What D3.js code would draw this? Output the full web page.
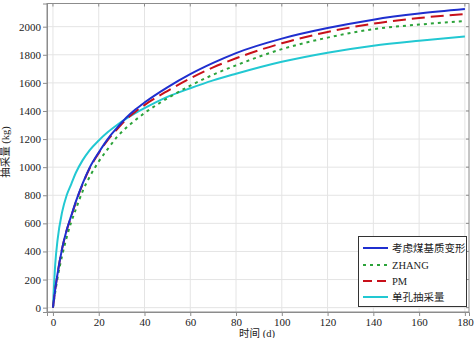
<!DOCTYPE html>
<html><head><meta charset="utf-8">
<script src="https://cdn.jsdelivr.net/npm/d3@7"></script>
<style>
body{margin:0;background:#fff}
svg{display:block}
svg text{font-family:"Liberation Serif","Times New Roman","Noto Sans CJK SC",serif !important;fill:#222}
</style>
</head><body>
<script>
const days    = [0, 1, 2, 4, 6, 8, 10, 13, 16, 20, 24, 28, 32, 36, 40, 50, 60, 70, 80, 100, 120, 140, 160, 180];
const blue    = [0, 130, 240, 420, 552, 655, 755, 885, 995, 1105, 1202, 1280, 1352, 1410, 1460, 1568, 1662, 1742, 1812, 1915, 1990, 2050, 2093, 2125];
const red     = [0, 130, 240, 420, 550, 650, 750, 880, 990, 1100, 1195, 1270, 1340, 1395, 1442, 1542, 1632, 1710, 1775, 1882, 1962, 2022, 2062, 2090];
const green   = [0, 110, 210, 370, 500, 610, 700, 830, 930, 1040, 1130, 1215, 1280, 1335, 1385, 1490, 1580, 1658, 1725, 1840, 1922, 1982, 2015, 2040];
const cyan    = [0, 310, 480, 680, 800, 880, 960, 1050, 1120, 1190, 1250, 1300, 1345, 1385, 1420, 1500, 1562, 1618, 1665, 1750, 1815, 1865, 1900, 1930];
const seriesNames = ["考虑煤基质变形", "ZHANG", "PM", "单孔抽采量"];
const xTicks = [0, 20, 40, 60, 80, 100, 120, 140, 160, 180];
const yTicks = [0, 200, 400, 600, 800, 1000, 1200, 1400, 1600, 1800, 2000];
const xLabel = "时间 (d)";
const yLabel = "抽采量 (kg)";

const W = 474, H = 338;
const L = 47, R = 469, T = 3.5, B = 312;
const x = d3.scaleLinear().domain([-2.6, 181.8]).range([L, R]);
const y = d3.scaleLinear().domain([-31, 2165]).range([B, T]);

const svg = d3.select("body").append("svg").attr("width", W).attr("height", H);

// grid
svg.append("g").selectAll("line").data(xTicks).join("line")
  .attr("x1", d => x(d)).attr("x2", d => x(d)).attr("y1", T).attr("y2", B)
  .attr("stroke", "#e4e4e4").attr("stroke-width", 1);
svg.append("g").selectAll("line").data(yTicks).join("line")
  .attr("y1", d => y(d)).attr("y2", d => y(d)).attr("x1", L).attr("x2", R)
  .attr("stroke", "#e4e4e4").attr("stroke-width", 1);

// frame
svg.append("rect").attr("x", L).attr("y", T).attr("width", R - L).attr("height", B - T)
  .attr("fill", "none").attr("stroke", "#8c8c8c").attr("stroke-width", 1);

// axes
const fmt = d3.format("d");
const xAxis = d3.axisBottom(x).tickValues(xTicks).tickFormat(fmt).tickSize(4).tickPadding(2);
const yAxis = d3.axisLeft(y).tickValues(yTicks).tickFormat(fmt).tickSize(4).tickPadding(2);
const gx = svg.append("g").attr("transform", `translate(0,${B})`).call(xAxis);
const gy = svg.append("g").attr("transform", `translate(${L},0)`).call(yAxis);
[gx, gy].forEach(g => {
  g.attr("font-family", null).attr("font-size", null);
  g.select(".domain").attr("stroke", "#8c8c8c");
  g.selectAll(".tick line").attr("stroke", "#8c8c8c");
  g.selectAll(".tick text").style("font-size", "11px").attr("fill", "#222");
});
// inner ticks on top and right
svg.append("g").selectAll("line").data(xTicks).join("line")
  .attr("x1", d => x(d)).attr("x2", d => x(d)).attr("y1", T).attr("y2", T + 3)
  .attr("stroke", "#8c8c8c");
svg.append("g").selectAll("line").data(yTicks).join("line")
  .attr("y1", d => y(d)).attr("y2", d => y(d)).attr("x1", R).attr("x2", R - 3)
  .attr("stroke", "#8c8c8c");

// labels
svg.append("text").attr("x", 257).attr("y", 337).attr("text-anchor", "middle")
  .style("font-size", "10.5px").text(xLabel);
svg.append("text").attr("transform", `translate(9,152) rotate(-90)`).attr("text-anchor", "middle")
  .style("font-size", "10.5px").text(yLabel);

// series
const styles = [
  {data: blue, color: "#1f2fcf", dash: null, w: 2},
  {data: green, color: "#2ca33a", dash: "3,4", w: 2},
  {data: red, color: "#c8101a", dash: "13,6", w: 2},
  {data: cyan, color: "#22c8d2", dash: null, w: 2}
];
const line = d3.line().x((d, i) => x(days[i])).y(d => y(d)).curve(d3.curveMonotoneX);
svg.append("clipPath").attr("id", "c").append("rect")
  .attr("x", L).attr("y", T).attr("width", R - L).attr("height", B - T);
const drawOrder = [3, 1, 2, 0];
drawOrder.forEach(k => {
  const s = styles[k];
  svg.append("path").attr("d", line(s.data)).attr("fill", "none")
    .attr("stroke", s.color).attr("stroke-width", s.w)
    .attr("stroke-dasharray", s.dash).attr("clip-path", "url(#c)");
});

// legend
const lg = svg.append("g");
lg.append("rect").attr("x", 358.5).attr("y", 236.5).attr("width", 108).attr("height", 70)
  .attr("fill", "#fff").attr("stroke", "#333").attr("stroke-width", 1);
const ly = [248, 265, 281, 297];
const legDash = [null, "3,4", "9,5", null];
styles.forEach((s, i) => {
  lg.append("line").attr("x1", 363).attr("x2", 388).attr("y1", ly[i]).attr("y2", ly[i])
    .attr("stroke", s.color).attr("stroke-width", 2).attr("stroke-dasharray", legDash[i]);
  lg.append("text").attr("x", 392).attr("y", ly[i] + 4)
    .style("font-size", "10.5px").text(seriesNames[i]);
});
</script>
</body></html>
